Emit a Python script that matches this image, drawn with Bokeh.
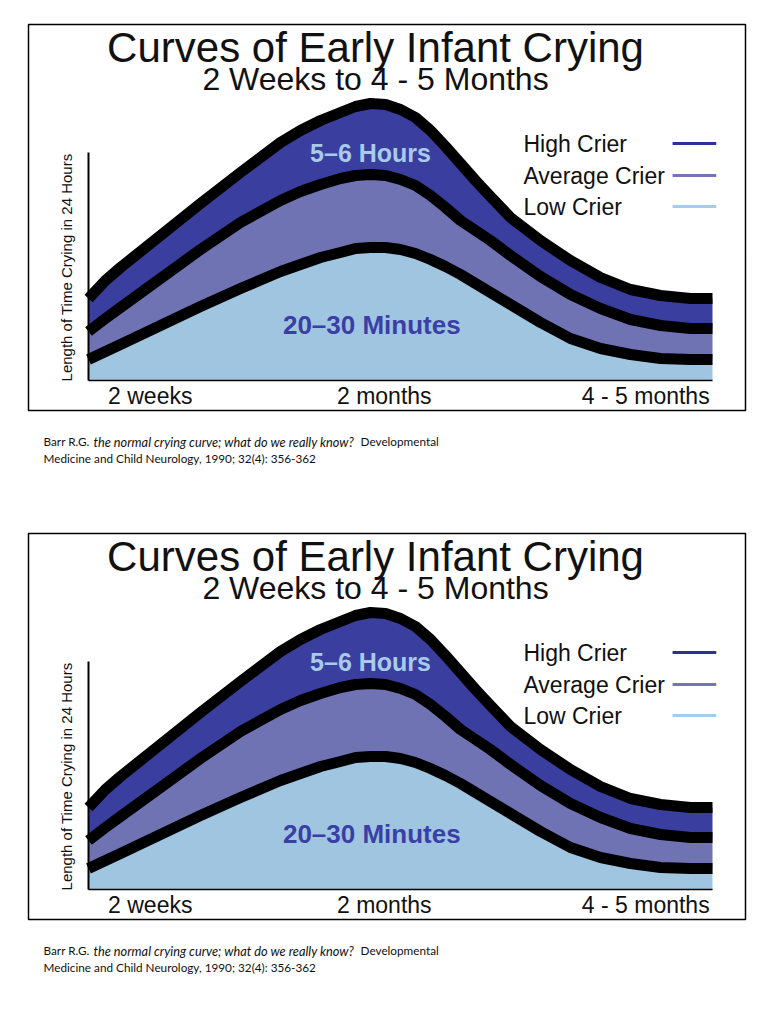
from math import pi

from bokeh.embed import file_html
from bokeh.layouts import column
from bokeh.models import BoxAnnotation, ColumnDataSource, FixedTicker, Label, Range1d
from bokeh.plotting import figure
from bokeh.resources import INLINE

# Position along the age axis (0 = left end, 100 = right end of the curves)
age_pos = [0, 2.72, 5.13, 11.54, 17.95, 24.36, 30.77, 33.97, 37.18, 40.38, 42.79,
           45.19, 47.60, 50.00, 52.40, 54.81, 57.21, 59.62, 62.02, 64.42, 67.63,
           72.44, 77.24, 82.05, 86.86, 91.67, 96.47, 100]

# Relative amount of crying per 24 hours for each crier type
high_crier = [82, 100, 113, 145, 177, 208, 238, 250, 260, 268, 274,
              277, 276, 271, 263, 250, 234, 217, 200, 184, 163,
              140, 120, 103, 91, 85, 82, 82]
average_crier = [49, 62, 73, 102, 131, 158, 180, 189, 196, 202, 205,
                 206, 205, 201, 195, 185, 173, 160, 150, 140, 125,
                 104, 86, 72, 61, 55, 52, 52]
low_crier = [21, 29, 36, 55, 74, 92, 109, 116, 123, 128, 132,
             133, 133, 131, 127, 121, 114, 106, 97, 88, 76,
             58, 42, 32, 26, 22, 21, 21]

tick_pos = [9.9, 47.4, 89.3]
tick_text = ["2 weeks", "2 months", "4 - 5 months"]

legend_names = ["High Crier", "Average Crier", "Low Crier"]
legend_colors = ["#2e3192", "#7476b4", "#a7cbe8"]

band_colors = {"high": "#3a3e9f", "average": "#6f73b4", "low": "#9fc5e1"}

title = "Curves of Early Infant Crying"
subtitle = "2 Weeks to 4 - 5 Months"
axis_title = "Length of Time Crying in 24 Hours"

citation_author = "Barr R.G."
citation_title = "the normal crying curve; what do we really know?"
citation_journal = "Developmental"
citation_rest = "Medicine and Child Neurology, 1990; 32(4): 356-362"


def build_panel():
    src = ColumnDataSource(dict(x=age_pos, high=high_crier, avg=average_crier,
                                low=low_crier, zero=[0] * len(age_pos)))

    p = figure(width=768, height=509, output_backend="svg", toolbar_location=None,
               x_range=Range1d(-14.103, 108.974), y_range=Range1d(-129, 380),
               min_border=0, background_fill_color="white",
               border_fill_color="white")
    p.grid.visible = False
    p.outline_line_color = None

    # frame around the chart
    p.add_layout(BoxAnnotation(left=-9.615, right=105.288, bottom=-30, top=356,
                               fill_color=None, fill_alpha=0, line_color="black",
                               line_alpha=1.0, line_width=1.5))

    # stacked bands
    p.varea(x="x", y1="zero", y2="low", source=src, fill_color=band_colors["low"])
    p.varea(x="x", y1="low", y2="avg", source=src, fill_color=band_colors["average"])
    p.varea(x="x", y1="avg", y2="high", source=src, fill_color=band_colors["high"])

    # heavy black outlines of each curve
    for col in ["low", "avg", "high"]:
        p.line(x="x", y=col, source=src, line_color="black", line_width=11,
               line_join="round", line_cap="butt")

    # axes drawn along the curves' baseline and left edge
    xa = p.xaxis[0]
    xa.fixed_location = 0
    xa.bounds = (0, 100)
    xa.ticker = FixedTicker(ticks=tick_pos)
    xa.major_label_overrides = {t: s for t, s in zip(tick_pos, tick_text)}
    xa.major_tick_line_color = None
    xa.major_tick_out = 0
    xa.minor_tick_line_color = None
    xa.axis_line_color = "black"
    xa.axis_line_width = 1.5
    xa.major_label_text_font = "Liberation Sans"
    xa.major_label_text_font_size = "23px"
    xa.major_label_text_color = "#111111"
    xa.major_label_standoff = 2

    ya = p.yaxis[0]
    ya.fixed_location = 0
    ya.bounds = (0, 228)
    ya.ticker = FixedTicker(ticks=[])
    ya.major_tick_line_color = None
    ya.minor_tick_line_color = None
    ya.major_label_text_font_size = "0px"
    ya.axis_line_color = "black"
    ya.axis_line_width = 2

    # titles
    p.add_layout(Label(x=46.0, y=333, text=title, text_font="Liberation Sans",
                       text_font_size="42px", text_align="center",
                       text_baseline="middle", text_color="#111111"))
    p.add_layout(Label(x=46.0, y=302, text=subtitle, text_font="Liberation Sans",
                       text_font_size="32px", text_align="center",
                       text_baseline="middle", text_color="#111111"))

    # vertical axis title
    p.add_layout(Label(x=-3.5, y=113, text=axis_title, angle=pi / 2,
                       text_font="Liberation Sans", text_font_size="15px",
                       text_align="center", text_baseline="middle",
                       text_color="#111111"))

    # band annotations
    p.add_layout(Label(x=45.2, y=228, text="5–6 Hours", text_font="Liberation Sans",
                       text_font_style="bold", text_font_size="25px",
                       text_align="center", text_baseline="middle",
                       text_color="#a9cbea"))
    p.add_layout(Label(x=45.4, y=56, text="20–30 Minutes", text_font="Liberation Sans",
                       text_font_style="bold", text_font_size="26px",
                       text_align="center", text_baseline="middle",
                       text_color="#3a3fa6"))

    # legend: label on the left, coloured line on the right
    leg_y = [237, 205, 174]
    p.segment(x0=[93.6] * 3, x1=[100.6] * 3, y0=leg_y, y1=leg_y,
              line_color=legend_colors, line_width=3)
    for name, yy in zip(legend_names, leg_y):
        p.add_layout(Label(x=69.7, y=yy, text=name, text_font="Liberation Sans",
                           text_font_size="23px", text_align="left",
                           text_baseline="middle", text_color="#111111"))

    # reference beneath the chart
    cite = dict(text_font="Lato", text_baseline="middle", text_color="#111111")
    p.add_layout(Label(x=-7.21, y=-61, text=citation_author,
                       text_font_size="11.75px", **cite))
    p.add_layout(Label(x=0.80, y=-61, text=citation_title, text_font_style="italic",
                       text_font_size="12.75px", **cite))
    p.add_layout(Label(x=43.6, y=-61, text=citation_journal,
                       text_font_size="11.75px", **cite))
    p.add_layout(Label(x=-7.21, y=-78, text=citation_rest,
                       text_font_size="11.75px", **cite))
    return p


layout = column(build_panel(), build_panel())
open("out.html", "w").write(file_html(layout, INLINE))
